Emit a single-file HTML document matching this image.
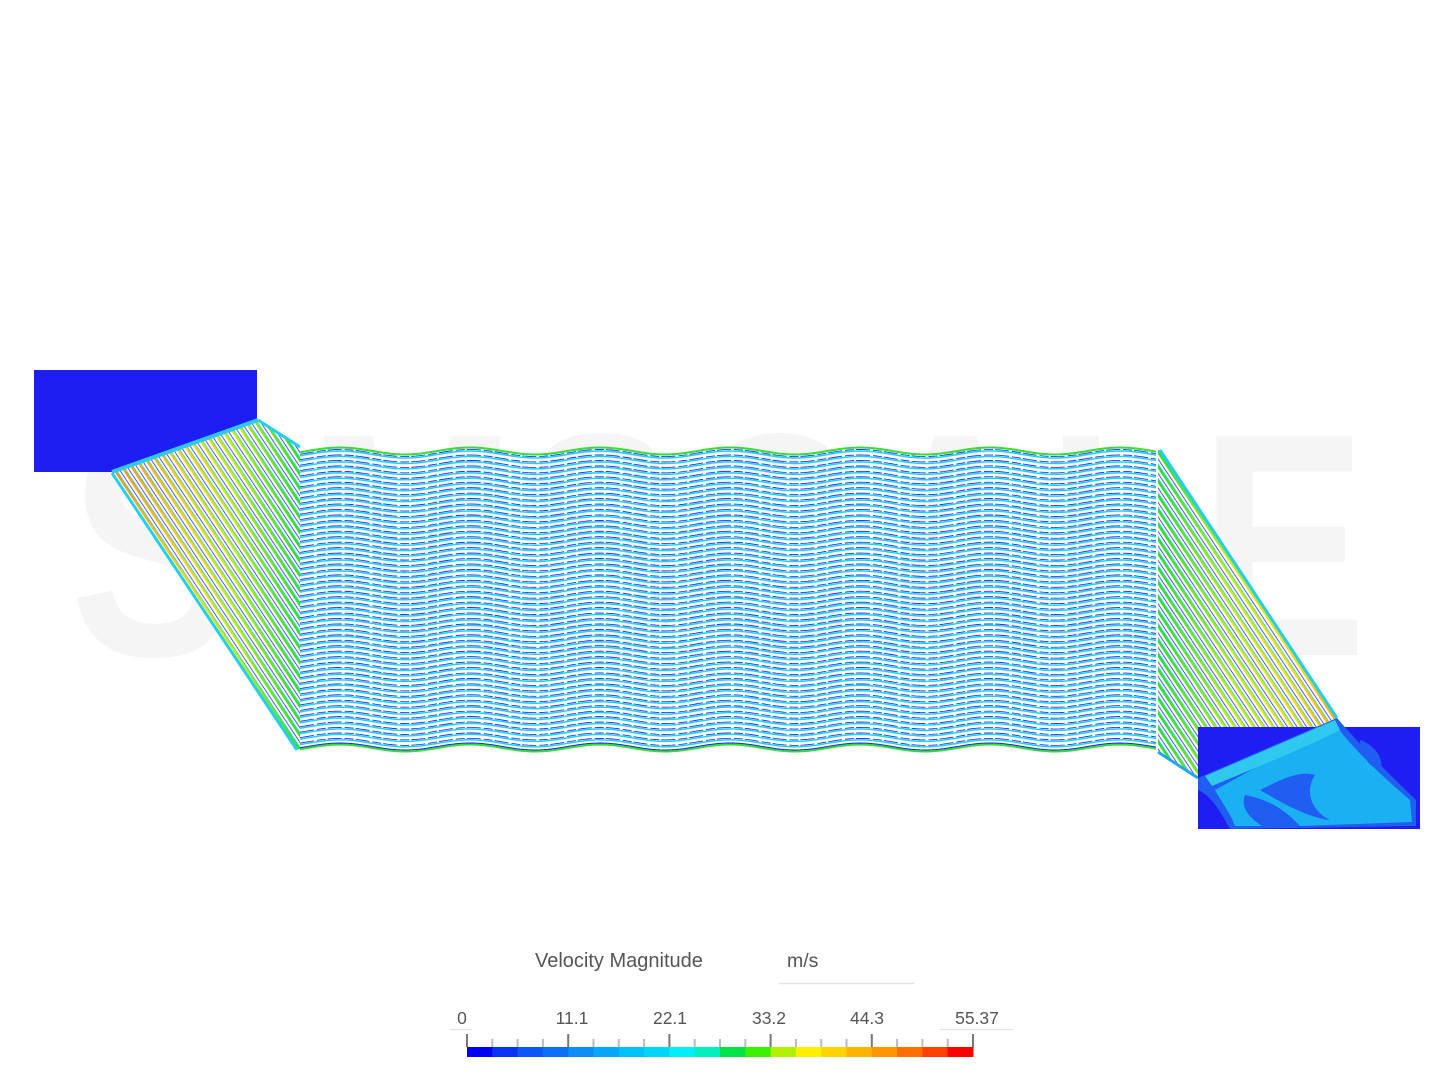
<!DOCTYPE html>
<html><head><meta charset="utf-8"><style>
html,body{margin:0;padding:0;background:#fff;}
body{width:1440px;height:1080px;overflow:hidden;position:relative;font-family:"Liberation Sans",sans-serif;}
svg{position:absolute;left:0;top:0;}
</style></head><body>
<svg id="s" width="1440" height="1080" viewBox="0 0 1440 1080" xmlns="http://www.w3.org/2000/svg">
<defs>
<linearGradient id="gl" gradientUnits="userSpaceOnUse" x1="120" y1="0" x2="300" y2="0">
<stop offset="0" stop-color="#ff9a10"/><stop offset="0.35" stop-color="#ffd400"/><stop offset="0.65" stop-color="#c8f000"/><stop offset="1" stop-color="#30e020"/>
</linearGradient>
<linearGradient id="gr" gradientUnits="userSpaceOnUse" x1="1160" y1="0" x2="1335" y2="0">
<stop offset="0" stop-color="#30e020"/><stop offset="0.4" stop-color="#c8f000"/><stop offset="0.75" stop-color="#ffe000"/><stop offset="1" stop-color="#ffb000"/>
</linearGradient>
<pattern id="pd" width="8" height="20" patternUnits="userSpaceOnUse" patternTransform="rotate(-33.5)">
<rect x="0" y="0" width="0.8" height="20" fill="#1818f0"/>
<rect x="0.8" y="0" width="2.2" height="20" fill="#fff"/>
<rect x="5.3" y="0" width="0.8" height="20" fill="#20d0f0"/>
<rect x="6.1" y="0" width="1.9" height="20" fill="#fff"/>
</pattern>
</defs>
<text x="70" y="655" font-family="Liberation Sans" font-weight="bold" font-size="318" fill="#f5f5f5" textLength="1297" lengthAdjust="spacingAndGlyphs">SIMSCALE</text>
<rect x="34" y="370" width="223" height="102" fill="#1e1ef2"/>
<polygon points="112,472 258,420 300,447 300,749 297,749" fill="url(#gl)"/>
<polygon points="112,472 258,420 300,447 300,749 297,749" fill="url(#pd)"/>
<polyline points="112,472 258,420" fill="none" stroke="#30c8f0" stroke-width="4"/>
<polyline points="112,473 297,750" fill="none" stroke="#20d0f4" stroke-width="3"/>
<polyline points="258,420 300,447" fill="none" stroke="#20d0f4" stroke-width="3"/>
<polygon points="1158,450 1160,450 1337,718 1198,778 1158,752" fill="url(#gr)"/>
<polygon points="1158,450 1160,450 1337,718 1198,778 1158,752" fill="url(#pd)"/>
<polyline points="1160,450 1337,718" fill="none" stroke="#20d0f4" stroke-width="3"/>
<polyline points="1158,752 1198,778" fill="none" stroke="#20a8f0" stroke-width="3"/>
<rect x="1198" y="727" width="222" height="102" fill="#1e1ef2"/>
<path d="M1198,778 L1337,718 C1360,745 1390,775 1416,800 L1416,826 L1230,829 C1220,810 1210,795 1198,790 Z" fill="#1f5ef0"/>
<path d="M1215,790 L1335,724 C1350,745 1375,770 1410,800 L1412,822 L1300,826 C1285,810 1270,800 1245,795 C1240,808 1250,818 1262,826 L1235,826 C1230,812 1220,800 1215,790 Z" fill="#1ab0f2"/>
<path d="M1260,790 C1280,780 1300,770 1315,775 C1305,790 1310,810 1330,820 C1310,818 1285,805 1260,790 Z" fill="#1f5ef0"/>
<path d="M1360,740 C1375,745 1385,760 1380,770 C1370,768 1360,755 1360,740 Z" fill="#1f5ef0"/>
<path d="M1205,776 L1335,720 L1340,730 C1300,750 1250,770 1212,786 Z" fill="#30c8ee"/>
<g id="mid"></g>
<text x="535" y="967" font-size="20" fill="#555">Velocity Magnitude</text>
<text x="787" y="967" font-size="19.5" fill="#555">m/s</text>
<line x1="779" y1="983.5" x2="914" y2="983.5" stroke="#e4e4e4" stroke-width="1.5"/>
<g font-size="17.5" fill="#555" text-anchor="middle">
<text x="462" y="1024">0</text><text x="572" y="1024">11.1</text><text x="670" y="1024">22.1</text>
<text x="769" y="1024">33.2</text><text x="867" y="1024">44.3</text><text x="977" y="1024">55.37</text>
</g>
<line x1="450" y1="1029.5" x2="472" y2="1029.5" stroke="#e4e4e4" stroke-width="1.2"/>
<line x1="940" y1="1029.5" x2="1013" y2="1029.5" stroke="#e4e4e4" stroke-width="1.2"/>
<g id="bar"></g>
</svg>
<script>
var NS="http://www.w3.org/2000/svg";
function el(t,a,p){var e=document.createElementNS(NS,t);for(var k in a)e.setAttribute(k,a[k]);p.appendChild(e);return e;}
var mid=document.getElementById('mid');
function wav(x){return -3.5*Math.cos(2*Math.PI*(x-470)/130);}
function path(y0,off){var d="";for(var x=300;x<=1158;x+=4){var y=y0+wav(x)+off;d+=(x==300?"M":"L")+x+","+y.toFixed(2);}return d;}
el('path',{d:path(451,0),fill:'none',stroke:'#30e030','stroke-width':2},mid);
var N=54;
for(var i=0;i<N;i++){
 var y0=451+2+i*5.45;
 el('path',{d:path(y0,0),fill:'none',stroke:'#1a1af0','stroke-width':0.8,'stroke-dasharray':'14 3 9 2'},mid);
 el('path',{d:path(y0,1.5),fill:'none',stroke:'#18d4f0','stroke-width':1.5},mid);
}
el('path',{d:path(748,0),fill:'none',stroke:'#30e030','stroke-width':2},mid);
el('path',{d:path(746.5,0),fill:'none',stroke:'#1a1af0','stroke-width':1},mid);
var bar=document.getElementById('bar');
var cols=["#0000f6","#0a32f4","#0c58f6","#0c6ef6","#0a8ef6","#08a6f6","#00c2f8","#00d6f8","#00eef6","#00f0c0","#00e448","#3cf000","#b0f000","#fff000","#ffd200","#ffb400","#ff9600","#ff6e00","#ff4000","#ff0000"];
var x0=467,w=(973-467)/20;
for(var i=0;i<20;i++){el('rect',{x:(x0+i*w).toFixed(2),y:1047,width:(w+0.5).toFixed(2),height:10,fill:cols[i]},bar);}
for(var i=0;i<=20;i++){var x=x0+i*w;
 if(i%4==0||i==20){el('line',{x1:x,y1:1034,x2:x,y2:1047,stroke:'#777','stroke-width':2},bar);}
 else el('line',{x1:x,y1:1039,x2:x,y2:1047,stroke:'#bbb','stroke-width':2},bar);}
</script>
</body></html>
